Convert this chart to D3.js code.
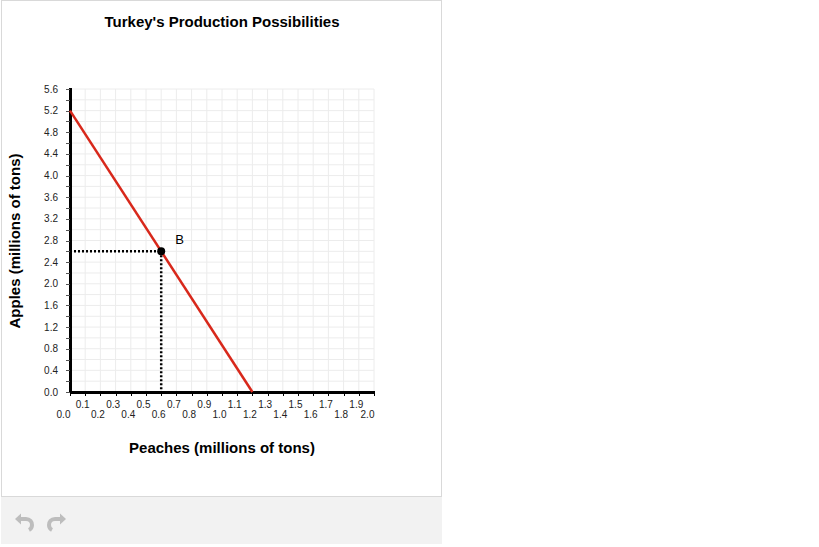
<!DOCTYPE html>
<html>
<head>
<meta charset="utf-8">
<script src="https://cdn.jsdelivr.net/npm/d3@7"></script>
<style>
  body { margin: 0; background: #fff; font-family: "Liberation Sans", Arial, sans-serif; }
  svg { display: block; }
</style>
</head>
<body>
<svg id="chart" width="819" height="547"></svg>
<script>
// chart data
var chartTitle = "Turkey's Production Possibilities",
    xTitle = 'Peaches (millions of tons)',
    yTitle = 'Apples (millions of tons)';

var xTickValues = [0.0, 0.1, 0.2, 0.3, 0.4, 0.5, 0.6, 0.7, 0.8, 0.9, 1.0,
                   1.1, 1.2, 1.3, 1.4, 1.5, 1.6, 1.7, 1.8, 1.9, 2.0];
var yTickValues = [0.0, 0.4, 0.8, 1.2, 1.6, 2.0, 2.4, 2.8, 3.2, 3.6, 4.0, 4.4, 4.8, 5.2, 5.6];

var ppfPeaches = [0, 1.2],
    ppfApples = [5.2, 0];

var pointNames = ['B'],
    pointPeaches = [0.6],
    pointApples = [2.6];

var svg = d3.select('#chart');

// panel frame + toolbar
svg.append('rect')
    .attr('x', 1.5).attr('y', 0.5)
    .attr('width', 440).attr('height', 496)
    .attr('fill', '#fff').attr('stroke', '#d9d9d9');
svg.append('rect')
    .attr('x', 1).attr('y', 497)
    .attr('width', 441).attr('height', 47)
    .attr('fill', '#f2f2f2');

// undo / redo icons
var icons = svg.append('g');
[{ cx: 24, dir: 1 }, { cx: 57, dir: -1 }].forEach(function(ic) {
    var g = icons.append('g')
        .attr('transform', 'translate(' + ic.cx + ',521) scale(' + ic.dir + ',1)');
    g.append('path')
        .attr('d', 'M-4,-2 H2 C6,-2 8,1 8,4 C8,6 7,8 5,9')
        .attr('fill', 'none')
        .attr('stroke', '#bdbdbd')
        .attr('stroke-width', 4);
    g.append('path')
        .attr('d', 'M-9,-2 L-3,-7.5 L-3,3.5 Z')
        .attr('fill', '#bdbdbd');
});

var x = d3.scaleLinear().domain([0, 2.0]).range([70, 374]),
    y = d3.scaleLinear().domain([0, 5.6]).range([392, 89]);

// grid
var grid = svg.append('g').attr('stroke', '#ececec').attr('stroke-width', 1);
grid.selectAll('line.gx')
    .data(d3.range(1, 21).map(function(i) { return i / 10; }))
    .enter().append('line')
    .attr('class', 'gx')
    .attr('x1', function(d) { return x(d); }).attr('x2', function(d) { return x(d); })
    .attr('y1', y(5.6)).attr('y2', y(0));
grid.selectAll('line.gy')
    .data(d3.range(1, 29).map(function(i) { return i / 5; }))
    .enter().append('line')
    .attr('class', 'gy')
    .attr('y1', function(d) { return y(d); }).attr('y2', function(d) { return y(d); })
    .attr('x1', x(0)).attr('x2', x(2.0));

// axes
var xAxis = d3.axisBottom(x)
    .tickValues(xTickValues)
    .tickSize(4)
    .tickFormat('');
var gx = svg.append('g')
    .attr('transform', 'translate(0,' + y(0) + ')')
    .call(xAxis);
gx.select('.domain').attr('stroke', '#000').attr('stroke-width', 3).attr('d', 'M' + x(0) + ',0H' + (x(2.0) + 1));
gx.selectAll('.tick line').attr('stroke', '#000').attr('stroke-width', 1);

gx.selectAll('.tick').append('text')
    .attr('fill', '#222')
    .attr('font-size', 10)
    .attr('text-anchor', 'middle')
    .attr('x', function(d, i) { return i === 0 || i === 20 ? -7 : -3; })
    .attr('y', function(d, i) { return i % 2 === 1 ? 16 : 26; })
    .text(function(d) { return d.toFixed(1); });

var yAxis = d3.axisLeft(y)
    .tickValues(d3.range(0, 29).map(function(i) { return i / 5; }))
    .tickSize(4)
    .tickFormat('');
var gy = svg.append('g')
    .attr('transform', 'translate(' + x(0) + ',0)')
    .call(yAxis);
gy.select('.domain').attr('stroke', '#000').attr('stroke-width', 3).attr('d', 'M0,' + (y(5.6) - 1) + 'V' + y(0));
gy.selectAll('.tick line').attr('stroke', '#555').attr('stroke-width', 1);

svg.append('g').selectAll('text')
    .data(yTickValues)
    .enter().append('text')
    .attr('x', 58)
    .attr('y', function(d) { return y(d) + 3.5; })
    .attr('text-anchor', 'end')
    .attr('font-size', 10)
    .attr('fill', '#222')
    .text(function(d) { return d.toFixed(1); });

svg.selectAll('.domain, .tick line').attr('shape-rendering', 'crispEdges');

// dotted guides to point B
var guides = svg.append('g')
    .attr('stroke', '#000')
    .attr('stroke-width', 2.5)
    .attr('stroke-dasharray', '2,2');
pointPeaches.forEach(function(px, i) {
    guides.append('line')
        .attr('x1', x(0)).attr('x2', x(px))
        .attr('y1', y(pointApples[i])).attr('y2', y(pointApples[i]));
    guides.append('line')
        .attr('x1', x(px)).attr('x2', x(px))
        .attr('y1', y(pointApples[i])).attr('y2', y(0));
});

// production possibilities frontier
var line = d3.line()
    .x(function(d) { return x(d[0]); })
    .y(function(d) { return y(d[1]); });
svg.append('path')
    .datum(d3.zip(ppfPeaches, ppfApples))
    .attr('d', line)
    .attr('fill', 'none')
    .attr('stroke', '#d8281b')
    .attr('stroke-width', 2.5);

// point B
svg.selectAll('circle.pt')
    .data(pointNames)
    .enter().append('circle')
    .attr('class', 'pt')
    .attr('cx', function(d, i) { return x(pointPeaches[i]); })
    .attr('cy', function(d, i) { return y(pointApples[i]); })
    .attr('r', 4)
    .attr('fill', '#000');
svg.selectAll('text.pt')
    .data(pointNames)
    .enter().append('text')
    .attr('class', 'pt')
    .attr('x', function(d, i) { return x(pointPeaches[i]) + 14; })
    .attr('y', function(d, i) { return y(pointApples[i]) - 7; })
    .attr('font-size', 13)
    .attr('fill', '#000')
    .text(function(d) { return d; });

// titles
svg.append('text')
    .attr('x', 222).attr('y', 27)
    .attr('text-anchor', 'middle')
    .attr('font-size', 15).attr('font-weight', 'bold')
    .text(chartTitle);
svg.append('text')
    .attr('x', 222).attr('y', 453)
    .attr('text-anchor', 'middle')
    .attr('font-size', 15).attr('font-weight', 'bold')
    .text(xTitle);
svg.append('text')
    .attr('transform', 'translate(20,241) rotate(-90)')
    .attr('text-anchor', 'middle')
    .attr('font-size', 15).attr('font-weight', 'bold')
    .text(yTitle);
</script>
</body>
</html>
